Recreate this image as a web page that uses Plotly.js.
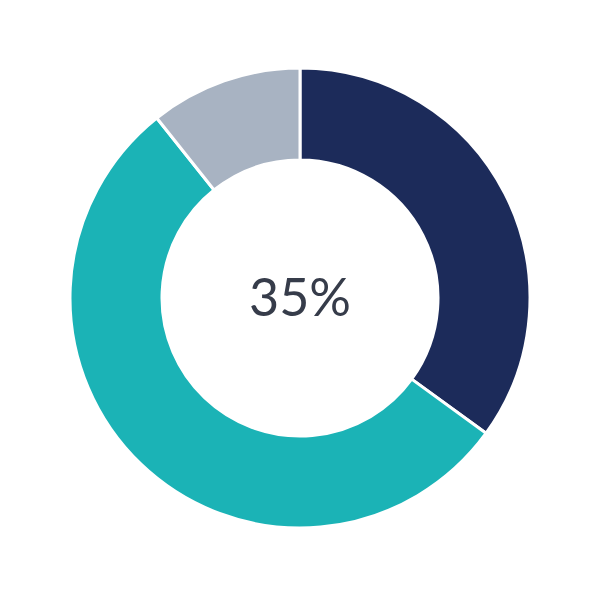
<!DOCTYPE html>
<html>
<head>
<meta charset="utf-8">
<script src="https://cdn.plot.ly/plotly-3.0.1.min.js"></script>
<style>
  html, body { margin: 0; padding: 0; background: #fff; }
  #plotly { width: 600px; height: 599px; }
</style>
</head>
<body>
<div id="plotly"></div>
<script>
// slice data, clockwise from 12 o'clock
var labels = ['Share', 'Other', 'Remaining'];
var values = [35, 54.3, 10.7];
var sliceColors = ['#1c2b5a', '#1bb3b6', '#a8b3c2'];
var centerText = '35%';

var donutTrace = {
  type: 'pie',
  labels: labels,
  values: values,
  hole: 0.6,
  sort: false,
  direction: 'clockwise',
  rotation: 0,
  textinfo: 'none',
  hoverinfo: 'label+percent',
  marker: {
    colors: sliceColors,
    line: { color: '#ffffff', width: 3 }
  },
  showlegend: false
};

var layout = {
  width: 600,
  height: 599,
  margin: { l: 70, r: 70, t: 68, b: 71 },
  paper_bgcolor: '#ffffff',
  annotations: [{
    text: centerText,
    x: 0.5,
    y: 0.5,
    xref: 'paper',
    yref: 'paper',
    yshift: 2,
    showarrow: false,
    font: { family: 'Lato, sans-serif', size: 52, color: '#363c4a' }
  }]
};

Plotly.newPlot('plotly', [donutTrace], layout, { displayModeBar: false, staticPlot: true });
</script>
</body>
</html>
